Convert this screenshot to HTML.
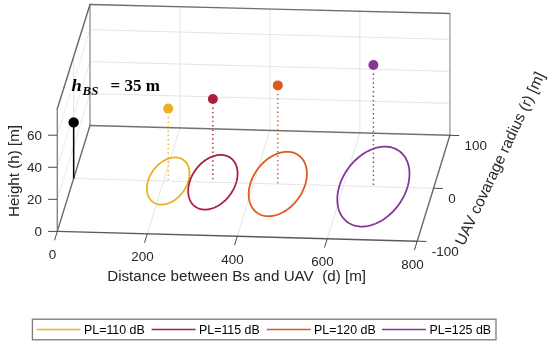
<!DOCTYPE html>
<html><head><meta charset="utf-8"><style>
html,body{margin:0;padding:0;background:#fff;}
svg{display:block;}
.tk{font-family:"Liberation Sans",Arial,sans-serif;font-size:13.4px;fill:#262626;}
.lb{font-family:"Liberation Sans",Arial,sans-serif;font-size:15.2px;fill:#262626;}
.lg{font-family:"Liberation Sans",Arial,sans-serif;font-size:12.4px;fill:#000;}
.an{font-family:"Liberation Serif","Times New Roman",serif;font-size:17px;font-weight:bold;fill:#000;}
</style></head><body>
<svg width="550" height="345" viewBox="0 0 550 345">
<rect width="550" height="345" fill="#fff"/>
<line x1="90.00" y1="93.54" x2="449.90" y2="103.34" stroke="#e5e5e5" stroke-width="1" />
<line x1="90.00" y1="61.58" x2="449.90" y2="71.38" stroke="#e5e5e5" stroke-width="1" />
<line x1="90.00" y1="29.62" x2="449.90" y2="39.42" stroke="#e5e5e5" stroke-width="1" />
<line x1="179.97" y1="127.95" x2="179.97" y2="6.75" stroke="#e5e5e5" stroke-width="1" />
<line x1="269.95" y1="130.40" x2="269.95" y2="9.00" stroke="#e5e5e5" stroke-width="1" />
<line x1="359.92" y1="132.85" x2="359.92" y2="11.25" stroke="#e5e5e5" stroke-width="1" />
<line x1="57.30" y1="199.34" x2="90.00" y2="93.54" stroke="#ebebeb" stroke-width="1" />
<line x1="57.30" y1="167.28" x2="90.00" y2="61.58" stroke="#ebebeb" stroke-width="1" />
<line x1="57.30" y1="135.22" x2="90.00" y2="29.62" stroke="#ebebeb" stroke-width="1" />
<line x1="73.65" y1="178.45" x2="73.65" y2="56.65" stroke="#e5e5e5" stroke-width="1" />
<line x1="147.27" y1="233.85" x2="179.97" y2="127.95" stroke="#e5e5e5" stroke-width="1" />
<line x1="237.25" y1="236.30" x2="269.95" y2="130.40" stroke="#e5e5e5" stroke-width="1" />
<line x1="327.22" y1="238.75" x2="359.92" y2="132.85" stroke="#e5e5e5" stroke-width="1" />
<line x1="73.65" y1="178.45" x2="433.55" y2="188.25" stroke="#e5e5e5" stroke-width="1" />
<line x1="90.00" y1="4.50" x2="449.90" y2="13.50" stroke="#6e6e6e" stroke-width="1.4" stroke-linecap="round"/>
<line x1="449.90" y1="13.50" x2="449.90" y2="135.30" stroke="#a2a2a2" stroke-width="1.4" stroke-linecap="round"/>
<line x1="90.00" y1="4.50" x2="90.00" y2="125.50" stroke="#9a9a9a" stroke-width="1.4" stroke-linecap="round"/>
<line x1="90.00" y1="125.50" x2="449.90" y2="135.30" stroke="#727272" stroke-width="1.4" stroke-linecap="round"/>
<line x1="90.00" y1="125.50" x2="57.30" y2="231.40" stroke="#6a6a6a" stroke-width="1.4" stroke-linecap="round"/>
<line x1="90.00" y1="4.50" x2="57.30" y2="108.80" stroke="#666666" stroke-width="1.4" stroke-linecap="round"/>
<line x1="57.30" y1="108.80" x2="57.30" y2="231.40" stroke="#858585" stroke-width="1.4" stroke-linecap="round"/>
<line x1="57.30" y1="231.40" x2="417.20" y2="241.20" stroke="#5a5a5a" stroke-width="1.4" stroke-linecap="round"/>
<line x1="417.20" y1="241.20" x2="449.90" y2="135.30" stroke="#6a6a6a" stroke-width="1.4" stroke-linecap="round"/>
<line x1="57.30" y1="231.40" x2="54.56" y2="240.29" stroke="#4a4a4a" stroke-width="1" />
<line x1="147.27" y1="233.85" x2="144.53" y2="242.74" stroke="#4a4a4a" stroke-width="1" />
<line x1="237.25" y1="236.30" x2="234.51" y2="245.19" stroke="#4a4a4a" stroke-width="1" />
<line x1="327.22" y1="238.75" x2="324.48" y2="247.64" stroke="#4a4a4a" stroke-width="1" />
<line x1="417.20" y1="241.20" x2="414.46" y2="250.09" stroke="#4a4a4a" stroke-width="1" />
<line x1="417.20" y1="241.20" x2="426.50" y2="241.45" stroke="#4a4a4a" stroke-width="1" />
<line x1="433.55" y1="188.25" x2="442.85" y2="188.50" stroke="#4a4a4a" stroke-width="1" />
<line x1="449.90" y1="135.30" x2="459.20" y2="135.55" stroke="#4a4a4a" stroke-width="1" />
<line x1="57.30" y1="231.40" x2="48.00" y2="231.40" stroke="#4a4a4a" stroke-width="1" />
<line x1="57.30" y1="199.34" x2="48.00" y2="199.34" stroke="#4a4a4a" stroke-width="1" />
<line x1="57.30" y1="167.28" x2="48.00" y2="167.28" stroke="#4a4a4a" stroke-width="1" />
<line x1="57.30" y1="135.22" x2="48.00" y2="135.22" stroke="#4a4a4a" stroke-width="1" />
<path d="M188.23,181.57 L188.47,180.75 L188.69,179.93 L188.88,179.10 L189.05,178.29 L189.19,177.47 L189.31,176.66 L189.40,175.85 L189.46,175.05 L189.50,174.26 L189.51,173.48 L189.50,172.70 L189.46,171.94 L189.40,171.19 L189.31,170.44 L189.19,169.72 L189.05,169.00 L188.88,168.30 L188.69,167.62 L188.47,166.95 L188.23,166.30 L187.96,165.66 L187.67,165.05 L187.35,164.45 L187.02,163.88 L186.66,163.33 L186.27,162.79 L185.87,162.28 L185.44,161.80 L184.99,161.33 L184.52,160.89 L184.04,160.48 L183.53,160.09 L183.00,159.72 L182.46,159.38 L181.90,159.07 L181.32,158.78 L180.73,158.53 L180.12,158.29 L179.49,158.09 L178.86,157.91 L178.20,157.77 L177.54,157.65 L176.87,157.56 L176.18,157.50 L175.49,157.46 L174.79,157.46 L174.08,157.48 L173.36,157.53 L172.63,157.62 L171.90,157.73 L171.17,157.86 L170.43,158.03 L169.69,158.22 L168.95,158.45 L168.20,158.70 L167.46,158.97 L166.72,159.28 L165.98,159.61 L165.24,159.96 L164.50,160.35 L163.78,160.75 L163.05,161.19 L162.33,161.64 L161.62,162.12 L160.92,162.62 L160.23,163.15 L159.54,163.70 L158.87,164.26 L158.20,164.85 L157.55,165.46 L156.92,166.09 L156.29,166.73 L155.69,167.40 L155.09,168.08 L154.51,168.77 L153.95,169.48 L153.41,170.21 L152.88,170.94 L152.38,171.69 L151.89,172.45 L151.42,173.23 L150.98,174.01 L150.55,174.80 L150.14,175.59 L149.76,176.40 L149.40,177.21 L149.06,178.02 L148.75,178.84 L148.46,179.66 L148.19,180.48 L147.95,181.30 L147.74,182.12 L147.54,182.95 L147.38,183.76 L147.24,184.58 L147.12,185.39 L147.03,186.20 L146.96,187.00 L146.93,187.79 L146.91,188.57 L146.93,189.35 L146.97,190.11 L147.03,190.86 L147.12,191.61 L147.24,192.33 L147.38,193.05 L147.55,193.75 L147.74,194.43 L147.96,195.10 L148.20,195.75 L148.47,196.39 L148.76,197.00 L149.07,197.60 L149.41,198.17 L149.77,198.72 L150.16,199.26 L150.56,199.77 L150.99,200.25 L151.43,200.72 L151.90,201.16 L152.39,201.57 L152.90,201.96 L153.42,202.33 L153.97,202.67 L154.53,202.98 L155.11,203.27 L155.70,203.52 L156.31,203.76 L156.93,203.96 L157.57,204.14 L158.22,204.28 L158.89,204.40 L159.56,204.49 L160.24,204.55 L160.94,204.59 L161.64,204.59 L162.35,204.57 L163.07,204.52 L163.79,204.43 L164.52,204.32 L165.26,204.19 L166.00,204.02 L166.74,203.83 L167.48,203.60 L168.22,203.35 L168.97,203.08 L169.71,202.77 L170.45,202.44 L171.19,202.09 L171.92,201.70 L172.65,201.30 L173.38,200.86 L174.09,200.41 L174.81,199.93 L175.51,199.43 L176.20,198.90 L176.89,198.35 L177.56,197.79 L178.22,197.20 L178.87,196.59 L179.51,195.96 L180.13,195.32 L180.74,194.65 L181.34,193.97 L181.91,193.28 L182.47,192.57 L183.02,191.84 L183.54,191.11 L184.05,190.36 L184.54,189.60 L185.01,188.82 L185.45,188.04 L185.88,187.25 L186.28,186.46 L186.67,185.65 L187.03,184.84 L187.36,184.03 L187.68,183.21 L187.97,182.39 L188.23,181.57Z" fill="none" stroke="#EDB120" stroke-width="1.8"/>
<path d="M236.10,182.87 L236.38,181.92 L236.63,180.97 L236.85,180.01 L237.05,179.06 L237.21,178.12 L237.35,177.18 L237.45,176.24 L237.53,175.32 L237.57,174.40 L237.59,173.49 L237.57,172.59 L237.52,171.71 L237.45,170.83 L237.34,169.97 L237.21,169.13 L237.04,168.30 L236.85,167.49 L236.63,166.69 L236.37,165.92 L236.09,165.16 L235.78,164.43 L235.45,163.72 L235.08,163.03 L234.69,162.36 L234.27,161.72 L233.83,161.10 L233.36,160.51 L232.86,159.94 L232.34,159.41 L231.80,158.90 L231.23,158.41 L230.65,157.96 L230.04,157.54 L229.40,157.15 L228.75,156.78 L228.08,156.45 L227.39,156.15 L226.69,155.88 L225.96,155.65 L225.23,155.44 L224.47,155.27 L223.70,155.13 L222.92,155.03 L222.13,154.96 L221.32,154.92 L220.51,154.91 L219.68,154.94 L218.85,155.00 L218.01,155.10 L217.16,155.22 L216.31,155.38 L215.46,155.58 L214.60,155.80 L213.74,156.06 L212.87,156.35 L212.01,156.67 L211.15,157.02 L210.29,157.41 L209.44,157.82 L208.59,158.26 L207.74,158.74 L206.90,159.24 L206.07,159.77 L205.24,160.32 L204.43,160.91 L203.62,161.51 L202.83,162.15 L202.05,162.81 L201.28,163.49 L200.53,164.19 L199.79,164.92 L199.07,165.67 L198.36,166.44 L197.67,167.23 L197.00,168.03 L196.35,168.86 L195.72,169.70 L195.11,170.55 L194.52,171.42 L193.96,172.30 L193.42,173.20 L192.90,174.10 L192.40,175.02 L191.93,175.94 L191.49,176.87 L191.07,177.81 L190.68,178.76 L190.32,179.70 L189.98,180.66 L189.67,181.61 L189.39,182.56 L189.14,183.52 L188.92,184.47 L188.72,185.42 L188.56,186.36 L188.43,187.30 L188.32,188.24 L188.25,189.16 L188.20,190.08 L188.19,190.99 L188.20,191.89 L188.25,192.78 L188.32,193.65 L188.43,194.51 L188.56,195.36 L188.73,196.18 L188.92,197.00 L189.15,197.79 L189.40,198.56 L189.68,199.32 L189.99,200.05 L190.33,200.77 L190.69,201.46 L191.08,202.12 L191.50,202.77 L191.95,203.38 L192.42,203.97 L192.91,204.54 L193.43,205.08 L193.97,205.59 L194.54,206.07 L195.13,206.52 L195.74,206.94 L196.37,207.34 L197.02,207.70 L197.69,208.03 L198.38,208.33 L199.08,208.60 L199.81,208.84 L200.55,209.04 L201.30,209.21 L202.07,209.35 L202.85,209.45 L203.64,209.52 L204.45,209.56 L205.26,209.57 L206.09,209.54 L206.92,209.48 L207.76,209.39 L208.61,209.26 L209.46,209.10 L210.32,208.90 L211.18,208.68 L212.04,208.42 L212.90,208.13 L213.76,207.81 L214.62,207.46 L215.48,207.08 L216.34,206.66 L217.19,206.22 L218.03,205.75 L218.87,205.25 L219.71,204.72 L220.53,204.16 L221.34,203.58 L222.15,202.97 L222.94,202.33 L223.72,201.68 L224.49,200.99 L225.25,200.29 L225.98,199.56 L226.71,198.81 L227.41,198.04 L228.10,197.26 L228.77,196.45 L229.42,195.63 L230.05,194.79 L230.66,193.93 L231.25,193.06 L231.81,192.18 L232.36,191.29 L232.88,190.38 L233.37,189.46 L233.84,188.54 L234.28,187.61 L234.70,186.67 L235.09,185.73 L235.45,184.78 L235.79,183.83 L236.10,182.87Z" fill="none" stroke="#AA1F3B" stroke-width="1.8"/>
<path d="M305.16,184.75 L305.49,183.63 L305.78,182.51 L306.04,181.38 L306.27,180.27 L306.47,179.15 L306.62,178.04 L306.75,176.94 L306.84,175.85 L306.89,174.77 L306.91,173.70 L306.89,172.64 L306.83,171.60 L306.75,170.57 L306.62,169.55 L306.46,168.56 L306.27,167.58 L306.04,166.62 L305.77,165.69 L305.48,164.78 L305.15,163.89 L304.78,163.02 L304.38,162.18 L303.95,161.37 L303.49,160.58 L303.00,159.83 L302.48,159.10 L301.92,158.40 L301.34,157.74 L300.73,157.10 L300.09,156.50 L299.42,155.93 L298.73,155.40 L298.01,154.90 L297.27,154.44 L296.50,154.01 L295.71,153.62 L294.90,153.27 L294.07,152.95 L293.21,152.67 L292.34,152.43 L291.45,152.23 L290.55,152.07 L289.63,151.95 L288.69,151.86 L287.74,151.82 L286.78,151.81 L285.81,151.84 L284.83,151.91 L283.84,152.03 L282.84,152.18 L281.84,152.36 L280.83,152.59 L279.82,152.86 L278.81,153.16 L277.79,153.50 L276.77,153.88 L275.76,154.30 L274.75,154.75 L273.74,155.23 L272.74,155.76 L271.74,156.31 L270.75,156.90 L269.77,157.53 L268.80,158.18 L267.84,158.87 L266.89,159.59 L265.95,160.33 L265.03,161.11 L264.13,161.91 L263.24,162.74 L262.37,163.60 L261.52,164.48 L260.69,165.39 L259.87,166.32 L259.09,167.27 L258.32,168.24 L257.58,169.23 L256.86,170.23 L256.17,171.26 L255.50,172.30 L254.86,173.35 L254.25,174.42 L253.67,175.50 L253.12,176.59 L252.59,177.69 L252.10,178.79 L251.64,179.90 L251.21,181.02 L250.81,182.14 L250.45,183.26 L250.12,184.39 L249.82,185.51 L249.56,186.63 L249.33,187.75 L249.14,188.87 L248.98,189.97 L248.86,191.07 L248.77,192.17 L248.72,193.25 L248.70,194.32 L248.72,195.38 L248.77,196.42 L248.86,197.45 L248.99,198.47 L249.15,199.46 L249.34,200.44 L249.57,201.39 L249.83,202.33 L250.13,203.24 L250.46,204.13 L250.82,205.00 L251.22,205.84 L251.65,206.65 L252.11,207.44 L252.61,208.19 L253.13,208.92 L253.68,209.62 L254.27,210.28 L254.88,210.92 L255.52,211.52 L256.18,212.08 L256.88,212.62 L257.60,213.12 L258.34,213.58 L259.11,214.01 L259.90,214.40 L260.71,214.75 L261.54,215.07 L262.39,215.34 L263.26,215.58 L264.15,215.79 L265.06,215.95 L265.98,216.07 L266.91,216.16 L267.86,216.20 L268.82,216.21 L269.79,216.18 L270.78,216.10 L271.77,215.99 L272.76,215.84 L273.77,215.65 L274.77,215.43 L275.79,215.16 L276.80,214.86 L277.82,214.52 L278.83,214.14 L279.85,213.72 L280.86,213.27 L281.87,212.78 L282.87,212.26 L283.87,211.71 L284.86,211.12 L285.84,210.49 L286.81,209.84 L287.77,209.15 L288.72,208.43 L289.65,207.68 L290.57,206.91 L291.48,206.10 L292.37,205.27 L293.24,204.42 L294.09,203.53 L294.92,202.63 L295.73,201.70 L296.52,200.75 L297.29,199.78 L298.03,198.79 L298.75,197.78 L299.44,196.76 L300.11,195.72 L300.75,194.67 L301.36,193.60 L301.94,192.52 L302.49,191.43 L303.01,190.33 L303.51,189.23 L303.97,188.11 L304.40,187.00 L304.79,185.88 L305.16,184.75Z" fill="none" stroke="#DC5A22" stroke-width="1.8"/>
<path d="M407.32,187.54 L407.73,186.14 L408.10,184.75 L408.43,183.36 L408.71,181.97 L408.95,180.59 L409.14,179.21 L409.30,177.85 L409.41,176.50 L409.47,175.15 L409.49,173.83 L409.47,172.51 L409.40,171.22 L409.29,169.94 L409.14,168.68 L408.94,167.45 L408.70,166.24 L408.42,165.05 L408.09,163.89 L407.72,162.76 L407.31,161.66 L406.86,160.58 L406.37,159.54 L405.83,158.53 L405.26,157.56 L404.65,156.62 L404.00,155.72 L403.31,154.86 L402.59,154.03 L401.83,153.24 L401.04,152.50 L400.21,151.79 L399.35,151.13 L398.46,150.52 L397.54,149.94 L396.59,149.41 L395.61,148.93 L394.60,148.49 L393.57,148.10 L392.51,147.75 L391.43,147.45 L390.33,147.20 L389.21,147.00 L388.07,146.85 L386.91,146.74 L385.73,146.69 L384.54,146.68 L383.33,146.72 L382.12,146.81 L380.89,146.95 L379.65,147.13 L378.41,147.37 L377.16,147.65 L375.90,147.98 L374.64,148.36 L373.38,148.78 L372.13,149.25 L370.87,149.76 L369.61,150.32 L368.36,150.93 L367.12,151.57 L365.88,152.26 L364.65,153.00 L363.44,153.77 L362.23,154.58 L361.04,155.43 L359.87,156.32 L358.71,157.25 L357.56,158.21 L356.44,159.21 L355.34,160.24 L354.26,161.30 L353.21,162.40 L352.17,163.52 L351.17,164.67 L350.19,165.85 L349.24,167.05 L348.32,168.28 L347.43,169.53 L346.57,170.80 L345.74,172.09 L344.95,173.40 L344.19,174.72 L343.47,176.06 L342.79,177.41 L342.14,178.77 L341.53,180.14 L340.96,181.52 L340.42,182.91 L339.93,184.30 L339.48,185.69 L339.07,187.08 L338.70,188.48 L338.38,189.87 L338.10,191.25 L337.86,192.64 L337.66,194.01 L337.51,195.37 L337.40,196.73 L337.33,198.07 L337.31,199.40 L337.33,200.71 L337.40,202.01 L337.51,203.28 L337.66,204.54 L337.86,205.77 L338.10,206.99 L338.39,208.17 L338.71,209.33 L339.08,210.46 L339.49,211.57 L339.94,212.64 L340.44,213.68 L340.97,214.69 L341.54,215.66 L342.15,216.60 L342.80,217.50 L343.49,218.37 L344.21,219.19 L344.97,219.98 L345.77,220.73 L346.59,221.43 L347.45,222.09 L348.34,222.71 L349.26,223.28 L350.22,223.81 L351.20,224.30 L352.20,224.74 L353.23,225.13 L354.29,225.47 L355.37,225.77 L356.47,226.02 L357.60,226.22 L358.74,226.37 L359.90,226.48 L361.07,226.54 L362.27,226.54 L363.47,226.50 L364.69,226.41 L365.91,226.28 L367.15,226.09 L368.40,225.86 L369.65,225.57 L370.90,225.24 L372.16,224.87 L373.42,224.44 L374.68,223.98 L375.94,223.46 L377.19,222.90 L378.44,222.30 L379.69,221.65 L380.92,220.96 L382.15,220.23 L383.37,219.45 L384.57,218.64 L385.76,217.79 L386.94,216.90 L388.10,215.97 L389.24,215.01 L390.36,214.01 L391.46,212.98 L392.54,211.92 L393.60,210.83 L394.63,209.70 L395.64,208.55 L396.61,207.37 L397.56,206.17 L398.49,204.94 L399.38,203.69 L400.23,202.42 L401.06,201.14 L401.85,199.83 L402.61,198.50 L403.33,197.17 L404.02,195.82 L404.67,194.45 L405.28,193.08 L405.85,191.70 L406.38,190.32 L406.87,188.93 L407.32,187.54Z" fill="none" stroke="#853799" stroke-width="1.8"/>
<line x1="168.21" y1="117.10" x2="168.21" y2="181.02" stroke="#EDB120" stroke-width="1.4" stroke-dasharray="1.4 3.0"/>
<circle cx="168.21" cy="108.60" r="5" fill="#EDB120"/>
<line x1="212.89" y1="107.50" x2="212.89" y2="182.24" stroke="#AA1F3B" stroke-width="1.4" stroke-dasharray="1.4 3.0"/>
<circle cx="212.89" cy="99.00" r="5" fill="#AA1F3B"/>
<line x1="277.80" y1="93.90" x2="277.80" y2="184.01" stroke="#DC5A22" stroke-width="1.4" stroke-dasharray="1.4 3.0"/>
<circle cx="277.80" cy="85.40" r="5" fill="#DC5A22"/>
<line x1="373.40" y1="73.50" x2="373.40" y2="186.61" stroke="#853799" stroke-width="1.4" stroke-dasharray="1.4 3.0"/>
<circle cx="373.40" cy="65.00" r="5" fill="#853799"/>
<line x1="73.65" y1="122.40" x2="73.65" y2="178.45" stroke="#000" stroke-width="1.5" />
<circle cx="73.65" cy="122.4" r="5.2" fill="#000"/>
<text x="52.56" y="254.49" class="tk" text-anchor="middle" dominant-baseline="central">0</text>
<text x="142.53" y="256.94" class="tk" text-anchor="middle" dominant-baseline="central">200</text>
<text x="232.51" y="259.39" class="tk" text-anchor="middle" dominant-baseline="central">400</text>
<text x="322.48" y="261.84" class="tk" text-anchor="middle" dominant-baseline="central">600</text>
<text x="412.46" y="264.29" class="tk" text-anchor="middle" dominant-baseline="central">800</text>
<text x="431.80" y="251.65" class="tk" text-anchor="start" dominant-baseline="central">-100</text>
<text x="448.15" y="198.70" class="tk" text-anchor="start" dominant-baseline="central">0</text>
<text x="464.50" y="145.75" class="tk" text-anchor="start" dominant-baseline="central">100</text>
<text x="41.90" y="231.40" class="tk" text-anchor="end" dominant-baseline="central">0</text>
<text x="41.90" y="199.34" class="tk" text-anchor="end" dominant-baseline="central">20</text>
<text x="41.90" y="167.28" class="tk" text-anchor="end" dominant-baseline="central">40</text>
<text x="41.90" y="135.22" class="tk" text-anchor="end" dominant-baseline="central">60</text>
<text x="107.2" y="280.6" class="lb">Distance between Bs and UAV&#160; (d) [m]</text>
<text transform="translate(18.5,216.9) rotate(-90)" class="lb">Height (h) [m]</text>
<text transform="translate(464,246.5) rotate(-64.7)" class="lb" style="font-size:15.4px">UAV covarage radius (r) [m]</text>
<text transform="translate(71.6,90.8) scale(1.1,1)" class="an" style="font-style:italic;font-size:16.8px">h</text>
<text x="82.6" y="94.5" class="an" style="font-style:italic;font-size:12.8px">BS</text>
<text x="110.5" y="91.4" class="an">= 35 m</text>
<rect x="32.4" y="319.2" width="463.6" height="20.6" fill="#fff" stroke="#7a7a7a" stroke-width="1.3"/>
<line x1="36.60" y1="329.50" x2="80.60" y2="329.50" stroke="#EDB120" stroke-width="1.6" />
<text x="84.00" y="333.8" class="lg">PL=110 dB</text>
<line x1="151.60" y1="329.50" x2="195.60" y2="329.50" stroke="#AA1F3B" stroke-width="1.6" />
<text x="199.00" y="333.8" class="lg">PL=115 dB</text>
<line x1="266.60" y1="329.50" x2="310.60" y2="329.50" stroke="#DC5A22" stroke-width="1.6" />
<text x="314.00" y="333.8" class="lg">PL=120 dB</text>
<line x1="382.00" y1="329.50" x2="426.00" y2="329.50" stroke="#853799" stroke-width="1.6" />
<text x="429.40" y="333.8" class="lg">PL=125 dB</text>
</svg>
</body></html>
